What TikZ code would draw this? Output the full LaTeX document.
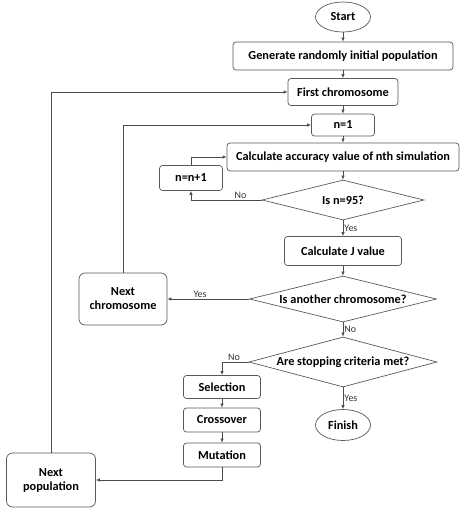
\documentclass[tikz,border=0pt]{standalone}
\usepackage{fontspec}
\setmainfont{Carlito}
\usetikzlibrary{shapes.geometric,arrows.meta}
\tikzset{
  stepbox/.style={draw=black!65, line width=0.7pt, rounded corners=3pt, inner sep=0pt, font=\bfseries\fontsize{12.3}{14}\selectfont, align=center},
  termbox/.style={draw=black!65, line width=0.7pt, ellipse, inner sep=0pt, minimum width=55pt, minimum height=30pt, font=\bfseries\fontsize{12.3}{14}\selectfont},
  testbox/.style={draw=black!65, line width=0.7pt, diamond, aspect=4, inner sep=0pt, font=\bfseries\fontsize{12.3}{14}\selectfont},
  answer/.style={font=\fontsize{10}{11}\selectfont, inner sep=1pt, text=black!80},
  flow/.style={draw=black!70, line width=0.7pt, -{Latex[length=4pt,width=3.5pt]}}
}
\begin{document}
\begin{tikzpicture}[x=1pt, y=-1pt]
\useasboundingbox (0,0) rectangle (474,517);
\node[termbox] (start) at (343,17) {Start};
\node[stepbox, minimum width=220pt, minimum height=28pt] (gen) at (343,56) {Generate randomly initial population};
\node[stepbox, minimum width=110pt, minimum height=27pt] (first) at (343,92) {First chromosome};
\node[stepbox, minimum width=63pt, minimum height=22pt] (n1) at (343,125) {n=1};
\node[stepbox, minimum width=232pt, minimum height=28pt] (calc) at (343,157) {Calculate accuracy value of nth simulation};
\node[stepbox, minimum width=63pt, minimum height=25pt] (nplus) at (191,178) {n=n+1};
\node[testbox, minimum width=162pt, minimum height=40pt] (isn) at (343,200) {Is n=95?};
\node[stepbox, minimum width=117pt, minimum height=29pt] (calcj) at (343,251) {Calculate J value};
\node[testbox, minimum width=187pt, minimum height=46pt] (another) at (343,299) {Is another chromosome?};
\node[stepbox, rounded corners=6pt, minimum width=88pt, minimum height=52pt] (nextc) at (123,299) {Next\\chromosome};
\node[testbox, minimum width=188pt, minimum height=50pt] (stop) at (343,362) {Are stopping criteria met?};
\node[stepbox, minimum width=77pt, minimum height=23pt] (sel) at (222,387) {Selection};
\node[stepbox, minimum width=77pt, minimum height=24pt] (cross) at (222,420) {Crossover};
\node[stepbox, minimum width=77pt, minimum height=24pt] (mut) at (222,455) {Mutation};
\node[termbox, minimum height=31pt] (finish) at (343,425) {Finish};
\node[stepbox, rounded corners=6pt, minimum width=89pt, minimum height=54pt] (nextp) at (51,480) {Next\\population};
\draw[flow] (start) -- (gen);
\draw[flow] (gen) -- (first);
\draw[flow] (first) -- (n1);
\draw[flow] (n1) -- (calc);
\draw[flow] (calc) -- (isn);
\draw[flow] (isn) -- node[answer, right] {Yes} (calcj);
\draw[flow] (isn.west) -- node[answer, above, pos=0.3] {No} (isn.west -| nplus.south) -- (nplus.south);
\draw[flow] (nplus.north) |- (calc.west);
\draw[flow] (calcj) -- (another);
\draw[flow] (another.west) -- node[answer, above, pos=0.6] {Yes} (nextc.east);
\draw[flow] (nextc.north) |- (n1.west);
\draw[flow] (another) -- node[answer, right] {No} (stop);
\draw[flow] (stop.west) -- node[answer, above, pos=0.55] {No} (stop.west -| sel.north) -- (sel.north);
\draw[flow] (stop) -- node[answer, right] {Yes} (finish);
\draw[flow] (sel) -- (cross);
\draw[flow] (cross) -- (mut);
\draw[flow] (mut.south) |- (nextp.east);
\draw[flow] (nextp.north) |- (first.west);
\end{tikzpicture}
\end{document}
